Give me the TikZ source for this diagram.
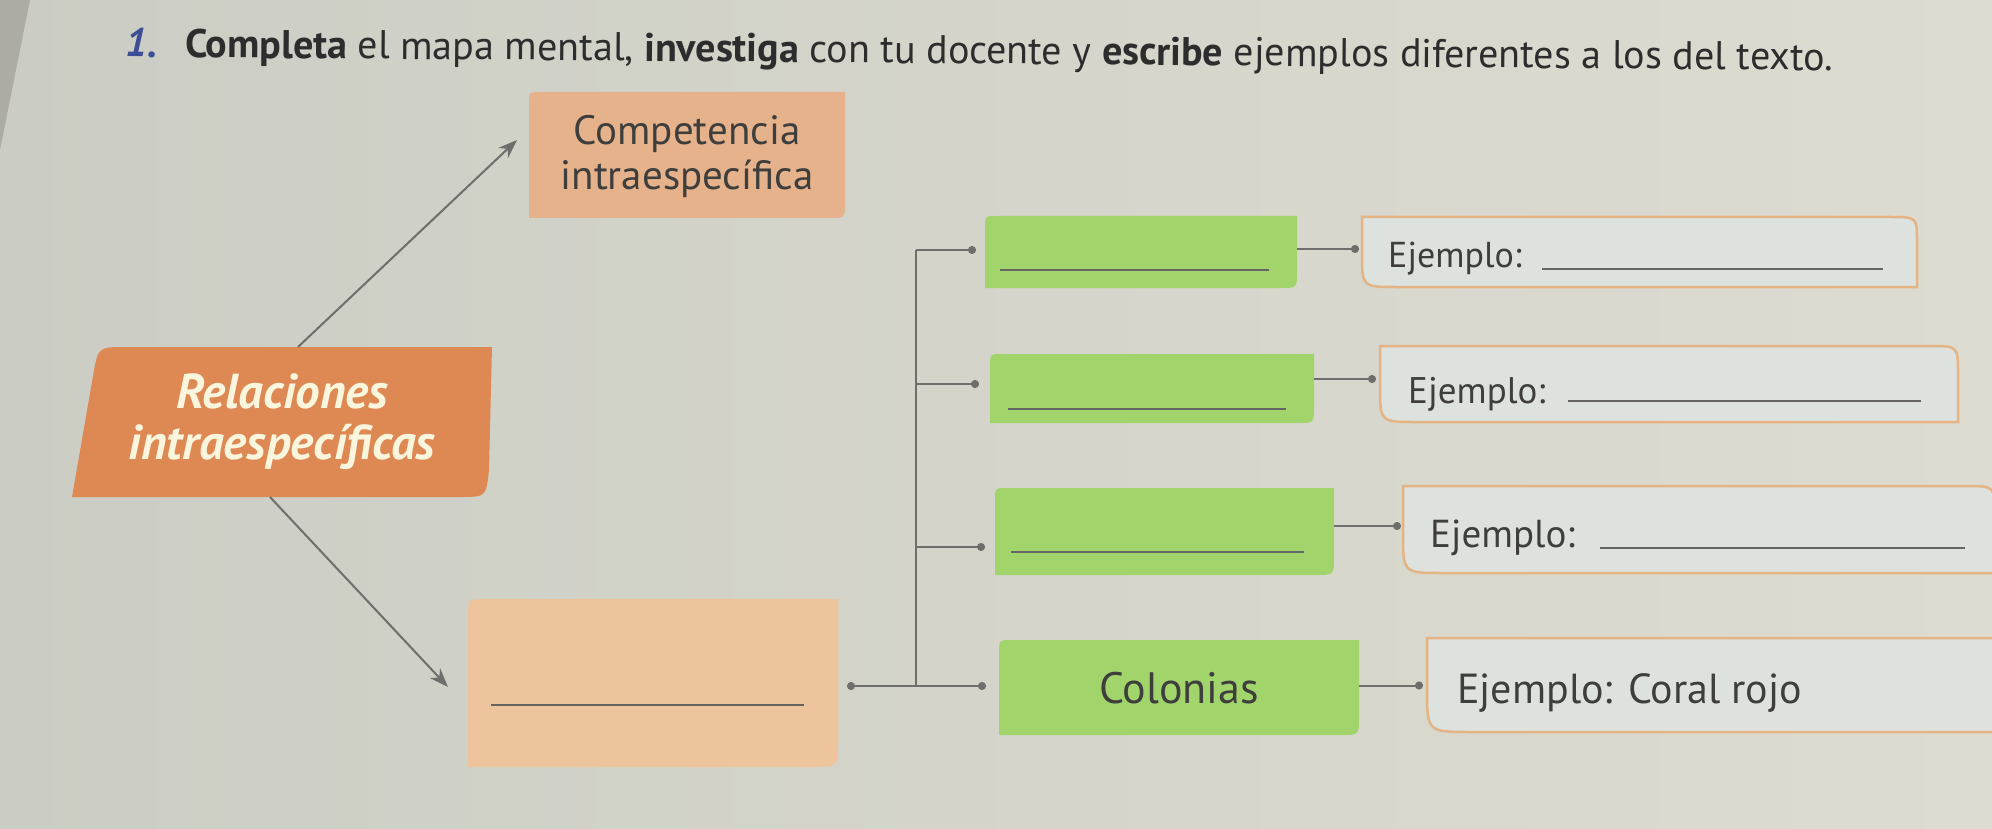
\documentclass[tikz,border=0pt]{standalone}
\usepackage{fontspec}
\setmainfont{PT Sans}
\usetikzlibrary{arrows.meta,calc}
\definecolor{paperL}{RGB}{203,205,196}
\definecolor{paperR}{RGB}{222,220,209}
\definecolor{edgeg}{RGB}{172,172,165}
\definecolor{txtg}{RGB}{62,62,60}
\definecolor{titleg}{RGB}{45,45,45}
\definecolor{numblue}{RGB}{60,78,150}
\definecolor{peachA}{RGB}{230,178,140}
\definecolor{relc}{RGB}{222,137,84}
\definecolor{cream}{RGB}{250,246,222}
\definecolor{peachB}{RGB}{238,196,156}
\definecolor{greenc}{RGB}{162,212,108}
\definecolor{ejfill}{RGB}{221,226,223}
\definecolor{ejborder}{RGB}{228,180,132}
\definecolor{lineg}{RGB}{110,110,108}
% leaf shape: top-left and bottom-right rounded
\newcommand\leafA[7]{\fill[#1] ({#2+#6},#3) -- (#4,#3) -- (#4,{#5-#7}) .. controls (#4,#5) .. ({#4-#7},#5) -- (#2,#5) -- (#2,{#3+#6}) .. controls (#2,#3) .. ({#2+#6},#3) -- cycle;}
% leaf shape: top-right and bottom-left rounded, with border
\newcommand\leafB[8]{\filldraw[fill=#1,draw=#2,line width=2.5pt] (#3,#4) -- ({#5-#7},#4) .. controls (#5,#4) .. (#5,{#4+#7}) -- (#5,#6) -- ({#3+#8},#6) .. controls (#3,#6) .. (#3,{#6-#8}) -- cycle;}
\begin{document}
\begin{tikzpicture}[x=1pt,y=-1pt,
  box/.style={inner sep=0pt, outer sep=0pt},
  conn/.style={draw=lineg, line width=2pt, -{Circle[length=8pt,width=8pt]}},
  connb/.style={draw=lineg, line width=2pt, {Circle[length=8pt,width=8pt]}-{Circle[length=8pt,width=8pt]}},
  trunk/.style={draw=lineg, line width=2pt},
  arr/.style={draw=lineg, line width=2pt, -{Stealth[length=19pt,width=14pt]}},
  uline/.style={draw=txtg!80, line width=1.6pt},
  ejtxt/.style={anchor=base west, inner sep=0pt, text=txtg},
]
\useasboundingbox (0,0) rectangle (1992,829);
\clip (0,0) rectangle (1992,829);
\shade[left color=paperL,right color=paperR] (0,0) rectangle (1992,829);
\fill[edgeg] (0,0) -- (30,0) -- (0,150) -- cycle;

% title
\node[anchor=base west, inner sep=0pt, rotate=-0.45, text=titleg, font=\fontsize{40}{46}\selectfont] (title) at (125,57)
 {\textcolor{numblue}{\textbf{\textit{1.}}}\hspace{28pt}\textbf{Completa} el mapa mental, \textbf{investiga} con tu docente y \textbf{escribe} ejemplos diferentes a los del texto.};

% shapes
\leafA{peachA}{529}{92}{845}{218}{12}{16}
\fill[relc] (126,347) -- (492,347) -- (489,470) .. controls (486,497) .. (460,497) -- (72,497) -- (93,376) .. controls (98,347) .. (126,347) -- cycle;
\leafA{peachB}{468}{599}{838}{767}{18}{26}
\leafA{greenc}{985}{216}{1297}{288}{12}{16}
\leafA{greenc}{990}{354}{1314}{423}{12}{16}
\leafA{greenc}{995}{488}{1334}{575}{12}{18}
\leafA{greenc}{999}{640}{1359}{735}{14}{18}
\leafB{ejfill}{ejborder}{1362}{217}{1917}{287}{26}{34}
\leafB{ejfill}{ejborder}{1380}{346}{1958}{422}{28}{36}
\leafB{ejfill}{ejborder}{1403}{486}{1995}{573}{30}{40}
\leafB{ejfill}{ejborder}{1427}{638}{2040}{732}{30}{44}

% nodes
\node[box, minimum width=316pt, minimum height=126pt, align=center, text=txtg, font=\fontsize{41}{45}\selectfont] (comp) at (687,157) {Competencia\\intraespecífica};
\node[box, minimum width=420pt, minimum height=150pt, align=center, text=cream, font=\fontsize{49}{51}\selectfont\bfseries\itshape] (rel) at (282,422) {Relaciones\\intraespecíficas};
\node[box, minimum width=370pt, minimum height=168pt] (peach) at (653,683) {};
\node[box, minimum width=312pt, minimum height=72pt] (g1) at (1141,252) {};
\node[box, minimum width=324pt, minimum height=69pt] (g2) at (1152,388.5) {};
\node[box, minimum width=339pt, minimum height=87pt] (g3) at (1164.5,531.5) {};
\node[box, minimum width=360pt, minimum height=95pt, text=txtg, font=\fontsize{44}{48}\selectfont] (g4) at (1179,688) {Colonias};
\node[box, minimum width=555pt, minimum height=70pt] (e1) at (1639.5,252) {};
\node[box, minimum width=578pt, minimum height=76pt] (e2) at (1669,384) {};
\node[box, minimum width=592pt, minimum height=87pt] (e3) at (1699,529.5) {};
\node[box, minimum width=613pt, minimum height=94pt] (e4) at (1733.5,685) {};

\node[ejtxt, font=\fontsize{36}{40}\selectfont] (et1) at (1388,267) {Ejemplo:};
\node[ejtxt, font=\fontsize{37}{40}\selectfont] (et2) at (1408,403) {Ejemplo:};
\node[ejtxt, font=\fontsize{39}{44}\selectfont] (et3) at (1430,547) {Ejemplo:};
\node[ejtxt, font=\fontsize{42}{48}\selectfont] (et4) at (1457,703) {Ejemplo: Coral rojo};

% underlines
\draw[uline] (1542,269) -- (1883,269);
\draw[uline] (1568,401) -- (1921,401);
\draw[uline] (1600,548) -- (1965,548);
\draw[uline] (1000,270) -- (1269,270);
\draw[uline] (1008,409) -- (1286,409);
\draw[uline] (1011,552) -- (1304,552);
\draw[uline] (491,705) -- (804,705);

% arrows
\draw[arr] ([xshift=16pt]rel.north) -- ([xshift=-12pt,yshift=17pt]comp.west);
\draw[arr] ([xshift=-12pt]rel.south) -- ([xshift=-20pt,yshift=-4pt]peach.west);

% tree connectors
\coordinate (t1) at (916,250);
\coordinate (t2) at (916,384);
\coordinate (t3) at (916,547);
\coordinate (t4) at (916,686);
\draw[trunk] (t1) -- (t4);
\draw[conn, shorten >=9pt] (t1) -- (t1 -| g1.west);
\draw[conn, shorten >=11pt] (t2) -- (t2 -| g2.west);
\draw[conn, shorten >=10pt] (t3) -- (t3 -| g3.west);
\draw[connb, shorten <=9pt, shorten >=13pt] (peach.east |- t4) -- (t4 -| g4.west);
\draw[conn, shorten >=3pt] ([yshift=3pt]g1.east) -- ([yshift=3pt]g1.east -| e1.west);
\draw[conn, shorten >=4pt] ([yshift=9.5pt]g2.east) -- ([yshift=9.5pt]g2.east -| e2.west);
\draw[conn, shorten >=2pt] ([yshift=5.5pt]g3.east) -- ([yshift=5.5pt]g3.east -| e3.west);
\draw[conn, shorten >=4pt] ([yshift=2.5pt]g4.east) -- ([yshift=2.5pt]g4.east -| e4.west);
\end{tikzpicture}
\end{document}
